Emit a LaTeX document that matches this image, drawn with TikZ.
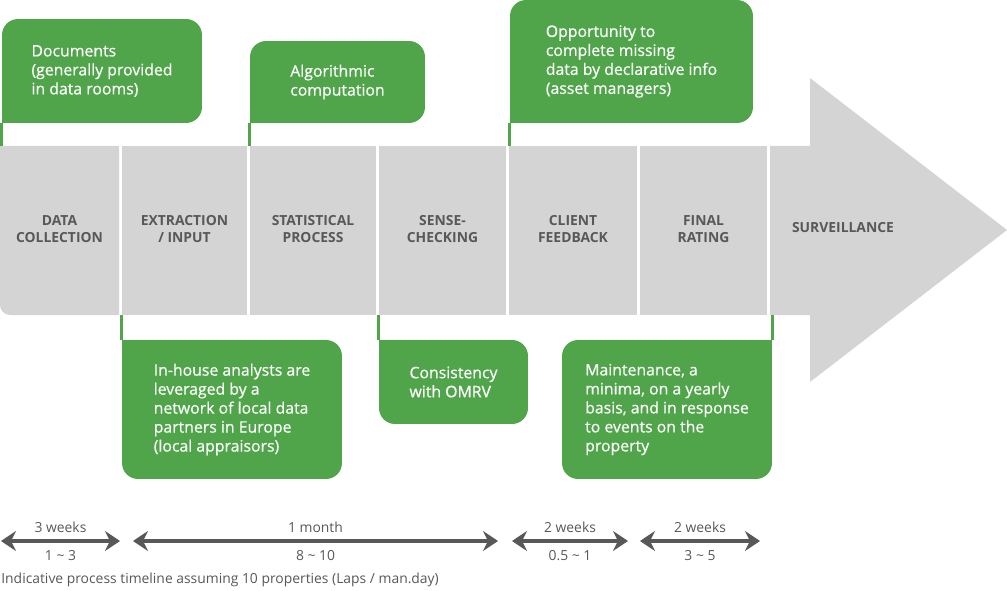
\documentclass[tikz,border=0pt]{standalone}
\usepackage{fontspec}
\setmainfont{Open Sans}
\newfontfamily\notefont[FakeBold=0.5]{Open Sans}
\usetikzlibrary{arrows.meta}
\definecolor{boxgreen}{RGB}{80,165,74}
\definecolor{bandgray}{RGB}{212,212,212}
\definecolor{inkgray}{RGB}{88,88,88}

\begin{document}
\begin{tikzpicture}[x=0.02cm,y=-0.02cm,
        every node/.style={inner sep=0pt},
        note/.style={fill=boxgreen,text=white,rounded corners=0.32cm,align=left,
            font=\notefont\fontsize{9}{10.8}\selectfont},
        stage/.style={text=inkgray,align=center,font=\fontsize{7.9}{9.6}\selectfont\bfseries},
        link/.style={draw=boxgreen,line width=1.4pt},
        span/.style={draw=inkgray,line width=2.3pt,
            {Stealth[length=0.3cm,width=0.4cm,inset=0.1cm]}-{Stealth[length=0.3cm,width=0.4cm,inset=0.1cm]}},
        lap/.style={text=inkgray,font=\fontsize{7.9}{9}\selectfont}]
    \useasboundingbox (0,0) rectangle (1007,591);

    % grey band
    \fill[bandgray] (0,146) -- (119,146) -- (119,315) -- (10,315)
        arc[start angle=90,end angle=180,radius=10] -- cycle;
    \fill[bandgray] (122,146) rectangle (247,315);
    \fill[bandgray] (250,146) rectangle (376,315);
    \fill[bandgray] (379,146) rectangle (506,315);
    \fill[bandgray] (509,146) rectangle (637,315);
    \fill[bandgray] (640,146) rectangle (767,315);
    \fill[bandgray] (770,146) -- (810,146) -- (810,78) -- (1007,230)
        -- (810,382) -- (810,315) -- (770,315) -- cycle;

    \node[stage] (s1) at (59.5,229) {DATA\\COLLECTION};
    \node[stage] (s2) at (184.5,229) {EXTRACTION\\/ INPUT};
    \node[stage] (s3) at (313,229) {STATISTICAL\\PROCESS};
    \node[stage] (s4) at (442.5,229) {SENSE-\\CHECKING};
    \node[stage] (s5) at (573,229) {CLIENT\\FEEDBACK};
    \node[stage] (s6) at (703.5,229) {FINAL\\RATING};
    \node[stage] (s7) at (843,228) {SURVEILLANCE};

    \coordinate (top) at (0,146);
    \coordinate (bot) at (0,315);

    % green notes
    \node[note,minimum width=4cm,minimum height=2.08cm] (docs) at (102,71)
        {Documents\\(generally provided\\in data rooms)};
    \node[note,minimum width=3.5cm,minimum height=1.64cm] (algo) at (337.5,82)
        {Algorithmic\\computation};
    \node[note,minimum width=4.86cm,minimum height=2.46cm] (opp) at (631.5,61.5)
        {Opportunity to\\complete missing\\data by declarative info\\(asset managers)};
    \node[note,minimum width=4.4cm,minimum height=2.78cm] (inhouse) at (232,409.5)
        {In-house analysts are\\leveraged by a\\network of local data\\partners in Europe\\(local appraisors)};
    \node[note,minimum width=2.98cm,minimum height=1.68cm] (omrv) at (453.5,382)
        {Consistency\\with OMRV};
    \node[note,minimum width=4.2cm,minimum height=2.78cm] (maint) at (667,409.5)
        {Maintenance, a\\minima, on a yearly\\basis, and in response\\to events on the\\property};

    % square corners where the notes meet the band
    \fill[boxgreen] (docs.south west) rectangle ++(20,-20);
    \fill[boxgreen] (algo.south west) rectangle ++(20,-20);
    \fill[boxgreen] (opp.south west) rectangle ++(20,-20);
    \fill[boxgreen] (inhouse.north west) rectangle ++(20,20);
    \fill[boxgreen] (omrv.north west) rectangle ++(20,20);
    \fill[boxgreen] (maint.north east) rectangle ++(-20,20);

    \draw[link] (docs.south west) -- (docs.south west |- top);
    \draw[link] (algo.south west) -- (algo.south west |- top);
    \draw[link] (opp.south west) -- (opp.south west |- top);
    \draw[link] (inhouse.north west) -- (inhouse.north west |- bot);
    \draw[link] (omrv.north west) -- (omrv.north west |- bot);
    \draw[link] (maint.north east) -- (maint.north east |- bot);

    % timeline
    \coordinate (a1) at (1,541);   \coordinate (b1) at (120,541);
    \coordinate (a2) at (133,541); \coordinate (b2) at (498,541);
    \coordinate (a3) at (512,541); \coordinate (b3) at (628,541);
    \coordinate (a4) at (640,541); \coordinate (b4) at (760,541);

    \draw[span] (a1) -- (b1);
    \draw[span] (a2) -- (b2);
    \draw[span] (a3) -- (b3);
    \draw[span] (a4) -- (b4);

    \node[lap] (w1) at (60.5,527) {3 weeks};
    \node[lap] (d1) at (60.5,556) {1 \textasciitilde\ 3};
    \node[lap] (w2) at (315.5,527) {1 month};
    \node[lap] (d2) at (315.5,556) {8 \textasciitilde\ 10};
    \node[lap] (w3) at (570,527) {2 weeks};
    \node[lap] (d3) at (570,556) {0.5 \textasciitilde\ 1};
    \node[lap] (w4) at (700,527) {2 weeks};
    \node[lap] (d4) at (700,556) {3 \textasciitilde\ 5};

    \node[lap,anchor=west] (caption) at (1,580)
        {Indicative process timeline assuming 10 properties (Laps / man.day)};
\end{tikzpicture}
\end{document}
